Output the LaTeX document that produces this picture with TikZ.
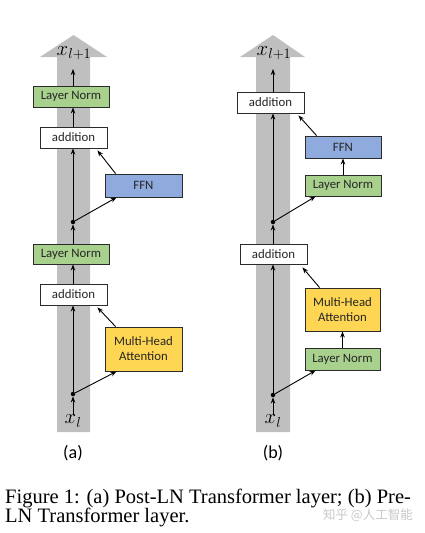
\documentclass[tikz,border=0pt]{standalone}
\usepackage{fontspec}
\setmainfont{Liberation Serif}
\newfontfamily\boxfont{Carlito}
\newfontfamily\cjkfont{Noto Sans CJK SC}
\usetikzlibrary{arrows.meta,calc}
\definecolor{lngreen}{HTML}{A9D18E}
\definecolor{ffnblue}{HTML}{8FAADC}
\definecolor{mhayellow}{HTML}{FFD653}
\definecolor{bargray}{HTML}{BFBFBF}
\definecolor{boxline}{HTML}{2B2B2B}
\definecolor{wmgray}{HTML}{C8C8C8}
\begin{document}
\begin{tikzpicture}[x=1pt,y=-1pt,
  blk/.style={draw=boxline, line width=0.9pt, inner sep=0pt, text=black!85,
    font=\boxfont\fontsize{12.8}{15}\selectfont, align=center},
  lnbox/.style={blk, fill=lngreen},
  addbox/.style={blk, fill=white},
  ffnbox/.style={blk, fill=ffnblue},
  mhabox/.style={blk, fill=mhayellow},
  bar/.style={fill=bargray, draw=none},
  arr/.style={draw=black, line width=0.9pt, -{Stealth[length=6pt,width=4.5pt]}},
  junction/.style={circle, fill=black, inner sep=0pt, minimum size=4.5pt},
  mathlbl/.style={inner sep=0pt, font=\fontsize{20}{22}\selectfont},
  panellbl/.style={inner sep=0pt, font=\boxfont\fontsize{18}{20}\selectfont},
]
\useasboundingbox (0,0) rectangle (425,533);

% ---------- gray residual bars ----------
\fill[bar] (57,432) -- (57,57) -- (40,57) -- (73.5,35) -- (107,57) -- (90,57) -- (90,432) -- cycle;
\fill[bar] (256,432) -- (256,57) -- (240,57) -- (273,35) -- (305,57) -- (290,57) -- (290,432) -- cycle;

% ---------- panel (a): Post-LN ----------
\node[lnbox, minimum width=76, minimum height=21] (aLNt) at (71,96.5) {Layer Norm};
\node[addbox, minimum width=67, minimum height=21] (aADDt) at (73.5,137.5) {addition};
\node[ffnbox, minimum width=77, minimum height=23] (aFFN) at (143.5,185.5) {FFN};
\node[lnbox, minimum width=76, minimum height=20] (aLNb) at (71,254) {Layer Norm};
\node[addbox, minimum width=67, minimum height=21] (aADDb) at (73.5,294.5) {addition};
\node[mhabox, minimum width=77, minimum height=44] (aMHA) at (143.5,349) {Multi-Head\\Attention};
\node[junction] (aD1) at (73,394) {};
\node[junction] (aD2) at (73,222) {};
\node[mathlbl] (aXin) at (73,421) {$x_l$};
\node[mathlbl] (aXout) at (74,53) {$x_{l+1}$};
\node[panellbl] (aLbl) at (73,453) {(a)};
\coordinate (aOutEnd) at (73,69);

\draw[arr] (aXin.north) -- (aD1);
\draw[arr] (aD1) -- (aADDb.south -| aD1);
\draw[arr] (aD1) -- ($(aMHA.south west)+(12,0)$);
\draw[arr] ($(aMHA.north west)+(11,0)$) -- ($(aADDb.south east)+(-10,2)$);
\draw[arr] (aADDb.north -| aD1) -- (aLNb.south -| aD1);
\draw[arr] (aLNb.north -| aD2) -- (aD2);
\draw[arr] (aD2) -- (aADDt.south -| aD2);
\draw[arr] (aD2) -- ($(aFFN.south west)+(12,0)$);
\draw[arr] ($(aFFN.north west)+(11,0)$) -- ($(aADDt.south east)+(-10,2)$);
\draw[arr] (aADDt.north -| aD2) -- (aLNt.south -| aD2);
\draw[arr] (aLNt.north -| aD2) -- (aOutEnd);

% ---------- panel (b): Pre-LN ----------
\node[addbox, minimum width=67, minimum height=21] (bADDt) at (270.5,102.5) {addition};
\node[ffnbox, minimum width=76, minimum height=22] (bFFN) at (343,147) {FFN};
\node[lnbox, minimum width=76, minimum height=21] (bLNt) at (343,185.5) {Layer Norm};
\node[addbox, minimum width=67, minimum height=20] (bADDb) at (273.5,254) {addition};
\node[mhabox, minimum width=75, minimum height=43] (bMHA) at (342.5,309.5) {Multi-Head\\Attention};
\node[lnbox, minimum width=75, minimum height=22] (bLNb) at (342.5,359) {Layer Norm};
\node[junction] (bD1) at (273,395) {};
\node[junction] (bD2) at (273,222) {};
\node[mathlbl] (bXin) at (273,421) {$x_l$};
\node[mathlbl] (bXout) at (274,53) {$x_{l+1}$};
\node[panellbl] (bLbl) at (273,453) {(b)};
\coordinate (bOutEnd) at (273,69);

\draw[arr] (bXin.north) -- (bD1);
\draw[arr] (bD1) -- (bADDb.south -| bD1);
\draw[arr] (bD1) -- ($(bLNb.south west)+(11,0)$);
\draw[arr] (bLNb.north) -- (bMHA.south);
\draw[arr] ($(bMHA.north west)+(15,0)$) -- ($(bADDb.south east)+(-5,3)$);
\draw[arr] (bADDb.north -| bD2) -- (bD2);
\draw[arr] (bD2) -- (bADDt.south -| bD2);
\draw[arr] (bD2) -- ($(bLNt.south west)+(11,0)$);
\draw[arr] (bLNt.north) -- (bFFN.south);
\draw[arr] ($(bFFN.north west)+(12,0)$) -- ($(bADDt.south east)+(-6,2)$);
\draw[arr] (bADDt.north -| bD2) -- (bOutEnd);

% ---------- caption ----------
\node[anchor=north west, inner sep=0pt, align=left, font=\fontsize{20.5}{17}\selectfont] (cap) at (5,488.5) {Figure 1: (a) Post-LN Transformer layer; (b) Pre-\\LN Transformer layer.};
\node[anchor=base east, inner sep=0pt, text=wmgray, font=\cjkfont\fontsize{12.5}{14}\selectfont] (wm) at (413,519) {知乎 @人工智能};
\end{tikzpicture}
\end{document}
